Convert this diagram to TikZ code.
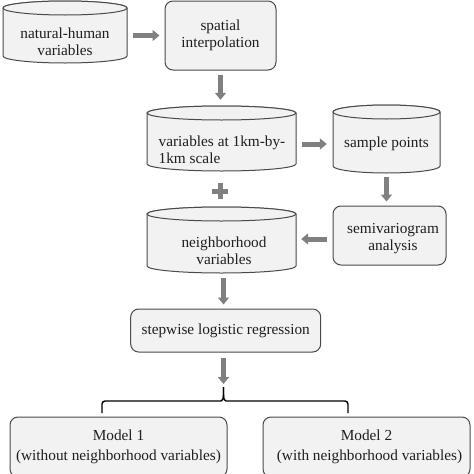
\documentclass[tikz,border=0pt]{standalone}
\usepackage{fontspec}
\setmainfont{Liberation Serif}
\usetikzlibrary{arrows.meta,calc}
\definecolor{boxfill}{HTML}{F2F2F2}
\definecolor{boxline}{HTML}{4A4A4A}
\definecolor{arrowgray}{HTML}{808080}
\definecolor{txt}{HTML}{1E1E1E}
\tikzset{
  every node/.style={font=\fontsize{15.3pt}{17.5pt}\selectfont, text=txt, inner sep=0pt},
  procbox/.style={draw=boxline, fill=boxfill, line width=1pt, rounded corners=8pt, align=center},
  cylline/.style={draw=boxline, fill=boxfill, line width=1pt},
  anchorbox/.style={draw=none, rectangle},
  garrow/.style={draw=arrowgray, line width=5pt, -{Triangle[length=7pt,width=11pt]}},
  gbar/.style={draw=arrowgray, line width=5pt},
  bracestyle/.style={draw=black, line width=1.4pt}
}
\newcommand{\drawcyl}[4]{%
  \pgfmathsetmacro\cylcx{(#1+#3)/2}%
  \pgfmathsetmacro\cylrx{(#3-#1)/2}%
  \filldraw[cylline] (#1,#2+7) -- (#1,#4-7) arc[start angle=180,end angle=0,x radius=\cylrx,y radius=7] -- (#3,#2+7) arc[start angle=0,end angle=-180,x radius=\cylrx,y radius=7] -- cycle;
  \draw[cylline] (\cylcx,#2+7) ellipse[x radius=\cylrx, y radius=7];
}
\begin{document}
\begin{tikzpicture}[x=1pt,y=-1pt]
\useasboundingbox (0,0) rectangle (474,474);
% cylinders
\drawcyl{3}{1}{127}{63}
\node[anchorbox, minimum width=124pt, minimum height=62pt] (nh) at (65,32) {};
\node[align=center] (nht) at (65,42) {natural-human\\variables};

\drawcyl{147}{106}{296}{171}
\node[anchorbox, minimum width=149pt, minimum height=65pt] (vk) at (221.5,138.5) {};
\node[align=left] (vkt) at (222,150) {variables at 1km-by-\\1km scale};

\drawcyl{333}{105}{440}{173}
\node[anchorbox, minimum width=107pt, minimum height=68pt] (sp) at (386.5,139) {};
\node (spt) at (386.5,144) {sample points};

\drawcyl{147}{207}{296}{273}
\node[anchorbox, minimum width=149pt, minimum height=66pt] (nb) at (221.5,240) {};
\node[align=center] (nbt) at (224,251) {neighborhood\\variables};

% process boxes
\node[procbox, minimum width=111pt, minimum height=69pt] (si) at (220.5,35.5) {spatial\\interpolation};
\node[procbox, minimum width=113pt, minimum height=59pt] (sv) at (389.5,235.5) {};
\node[align=center] (svt) at (393,238.5) {semivariogram\\analysis};
\node[procbox, minimum width=190pt, minimum height=43pt] (sw) at (225.7,330.5) {stepwise logistic regression};
\node[procbox, minimum width=217pt, minimum height=60pt, font=\fontsize{15.3pt}{20pt}\selectfont] (m1) at (118.5,447) {Model 1\\(without neighborhood variables)};
\node[procbox, minimum width=207pt, minimum height=60pt, font=\fontsize{15.3pt}{20pt}\selectfont] (m2) at (366.5,447) {Model 2\\\hspace*{6pt}(with neighborhood variables)};

% arrows
\draw[garrow, shorten <=6pt, shorten >=5pt] (nh.east |- si.west) -- (si.west);
\draw[garrow, shorten <=4pt, shorten >=6pt] (si.south) -- (si.south |- vk.north);
\draw[garrow, shorten <=6pt, shorten >=6pt] (vk.east |- spt) -- (sp.west |- spt);
\draw[garrow, shorten <=4pt, shorten >=4pt] (sp.south) -- (sp.south |- sv.north);
\draw[garrow, shorten <=6pt, shorten >=5pt] (sv.west |- 0,239) -- (nb.east |- 0,239);
\draw[garrow, shorten <=5pt, shorten >=4pt] ([xshift=2pt]nb.south) -- ([xshift=2pt]nb.south |- sw.north);
\coordinate (bt) at (223.5,387);
\draw[garrow, shorten <=5pt, shorten >=3pt] (sw.south -| bt) -- (bt);
% plus
\draw[gbar] (211.7,191) -- (228.3,191);
\draw[gbar] (220,182.7) -- (220,199.3);
% brace
\coordinate (bl) at (102,413);
\coordinate (br) at (348,413);
\draw[bracestyle, rounded corners=3pt] (bl) -- (bl |- 0,401) -- (218,401) [sharp corners] .. controls (222.5,401) and (223.5,399) .. (223.5,394) -- (bt);
\draw[bracestyle, rounded corners=3pt] (br) -- (br |- 0,401) -- (229,401) [sharp corners] .. controls (224.5,401) and (223.5,399) .. (223.5,394) -- (bt);
\end{tikzpicture}
\end{document}
